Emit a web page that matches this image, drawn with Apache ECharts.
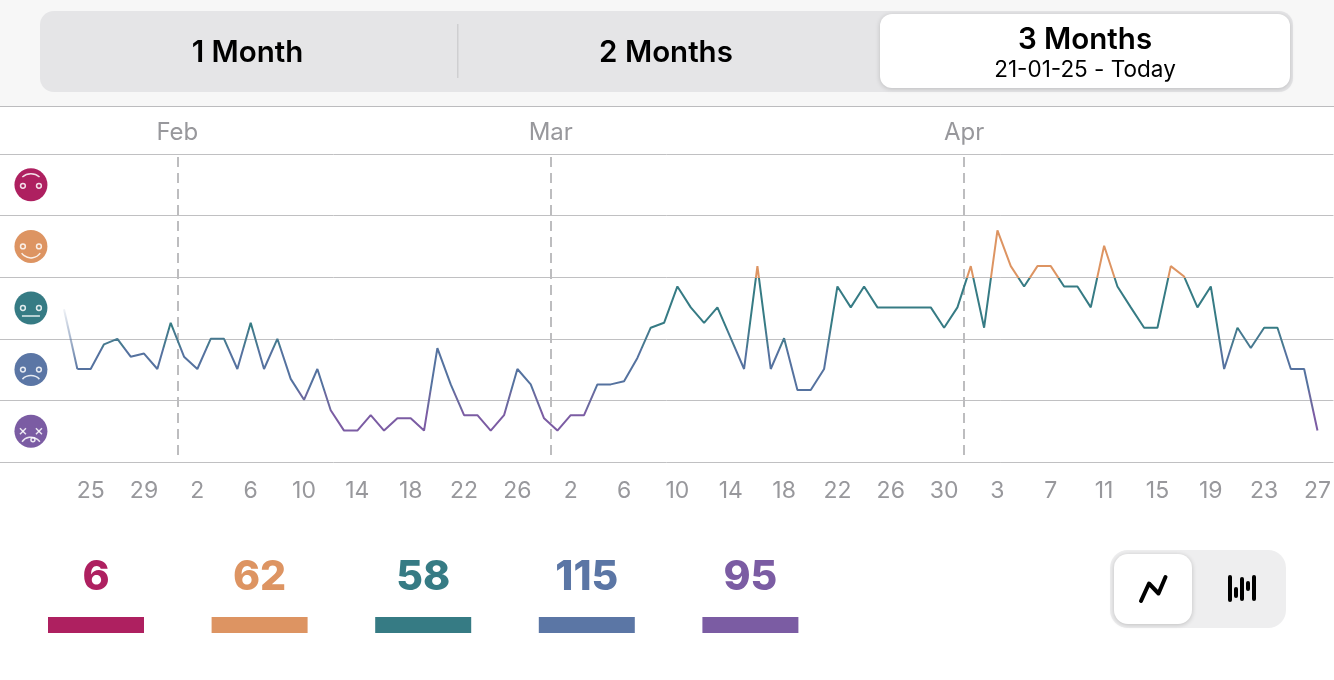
<!DOCTYPE html>
<html>
<head>
<meta charset="utf-8">
<style>
html, body { margin: 0; padding: 0; background: #fff; }
#main { width: 1334px; height: 680px; }
</style>
<script src="https://cdn.jsdelivr.net/npm/echarts@6/dist/echarts.min.js"></script>
</head>
<body>
<div id="main"></div>
<script>
// mood value per day, 23 Jan .. 27 Apr (index 0 = 23 Jan)
var moodValues = [
  2.48, 1.51, 1.51, 1.91, 2.0, 1.71, 1.76, 1.51, 2.26,
  1.71, 1.51, 2.0, 2.0, 1.51, 2.26, 1.51, 2.0, 1.35, 1.01, 1.51, 0.84, 0.51, 0.51, 0.76,
  0.51, 0.71, 0.71, 0.51, 1.85, 1.26, 0.76, 0.76, 0.51, 0.76, 1.51, 1.26, 0.71,
  0.51, 0.76, 0.76, 1.26, 1.26, 1.31, 1.69, 2.18, 2.26, 2.85, 2.51, 2.26, 2.51, 2.01, 1.51,
  3.18, 1.51, 2.01, 1.17, 1.17, 1.51, 2.85, 2.51, 2.85, 2.51, 2.51, 2.51, 2.51, 2.51, 2.18, 2.51,
  3.18, 2.18, 3.76, 3.18, 2.85, 3.18, 3.18, 2.85, 2.85, 2.51, 3.51, 2.85, 2.51, 2.18, 2.18,
  3.18, 3.01, 2.51, 2.85, 1.51, 2.18, 1.85, 2.18, 2.18, 1.51, 1.51, 0.51
];
var tickDays = [2, 6, 10, 14, 18, 22, 26, 30, 34, 38, 42, 46, 50, 54, 58, 62, 66, 70, 74, 78, 82, 86, 90, 94];
var tickLabels = ['25', '29', '2', '6', '10', '14', '18', '22', '26', '2', '6', '10', '14', '18', '22', '26', '30', '3', '7', '11', '15', '19', '23', '27'];
var monthEdges = [8.5, 36.5, 67.5];
var monthLabels = ['Feb', 'Mar', 'Apr'];

var moodLevels = [4.5, 3.5, 2.5, 1.5, 0.5];
var moodCounts = [6, 62, 58, 115, 95];
var moodColors = ['#ae2060', '#dd9462', '#367b84', '#5b76a5', '#7b5ca3'];

var rangeTabs = ['1 Month', '2 Months', '3 Months'];
var activeTabNote = '21-01-25 - Today';

// colour of the line by height, mixes at the edges of the mood bands
var lineBands = [
  {gte: 0, lt: 0.85, color: '#7b5ca3'},
  {gte: 0.85, lt: 1.15, color: '#6b699f'},
  {gte: 1.15, lt: 1.85, color: '#55729f'},
  {gte: 1.85, lt: 2.15, color: '#477990'},
  {gte: 2.15, lt: 2.98, color: '#367b84'},
  {gte: 2.98, lt: 4, color: '#dd9462'},
  {gte: 4, lte: 5, color: '#ae2060'}
];

var myChart = echarts.init(document.getElementById('main'));
var uiFont = 'Inter';

// one smiley, drawn around 0,0
function faceParts(k) {
  var white = {stroke: 'rgba(255,255,255,0.85)', fill: null, lineWidth: 1.5};
  var parts = [{type: 'circle', shape: {cx: 0, cy: 0, r: 16.5}, style: {fill: moodColors[k]}}];
  var eye = function (x, y) {
    return {type: 'circle', shape: {cx: x, cy: y || 0, r: 2.4}, style: white};
  };
  if (k === 0) {
    parts.push(eye(-8, 1), eye(8, 1), {type: 'arc', shape: {cx: 0, cy: 2, r: 13, startAngle: Math.PI * 1.27, endAngle: Math.PI * 1.73}, style: white});
  } else if (k === 1) {
    parts.push(eye(-8), eye(8), {type: 'arc', shape: {cx: 0, cy: 0, r: 11.5, startAngle: Math.PI * 0.2, endAngle: Math.PI * 0.8}, style: white});
  } else if (k === 2) {
    parts.push(eye(-8), eye(8), {type: 'line', shape: {x1: -9, y1: 8, x2: 9, y2: 8}, style: white});
  } else if (k === 3) {
    parts.push(eye(-8), eye(8), {type: 'arc', shape: {cx: 0, cy: 18, r: 12, startAngle: Math.PI * 1.25, endAngle: Math.PI * 1.75}, style: white});
  } else {
    parts.push(
      {type: 'line', shape: {x1: -11, y1: -3, x2: -5, y2: 3}, style: white},
      {type: 'line', shape: {x1: -5, y1: -3, x2: -11, y2: 3}, style: white},
      {type: 'line', shape: {x1: 5, y1: -3, x2: 11, y2: 3}, style: white},
      {type: 'line', shape: {x1: 11, y1: -3, x2: 5, y2: 3}, style: white},
      {type: 'arc', shape: {cx: 0, cy: 17, r: 11, startAngle: Math.PI * 1.2, endAngle: Math.PI * 1.8}, style: white},
      {type: 'circle', shape: {cx: 2, cy: 8.5, r: 2}, style: white}
    );
  }
  return parts;
}

// header, counts and the toggle are plain shapes on top of the chart
function rect(x, y, w, h, r, fill, extra) {
  var style = {fill: fill};
  for (var key in extra) style[key] = extra[key];
  return {type: 'rect', shape: {x: x, y: y, width: w, height: h, r: r}, style: style, silent: true};
}
function text(x, y, str, size, weight, color) {
  return {type: 'text', x: x, y: y, silent: true, style: {
    text: str, fontFamily: uiFont, fontSize: size, fontWeight: weight, fill: color,
    align: 'center', verticalAlign: 'middle'
  }};
}
function stroke(points) {
  return {type: 'polyline', silent: true, shape: {points: points},
    style: {fill: null, stroke: '#000', lineWidth: 4, lineCap: 'round', lineJoin: 'round'}};
}

var graphics = [
  rect(0, 0, 1334, 106, 0, '#f7f7f7'),
  rect(0, 106, 1334, 1, 0, '#bcbcbe'),
  rect(40, 11, 1253, 81, 14, '#e5e5e7'),
  rect(457, 24, 1.5, 54, 0, '#cfcfd1'),
  rect(880, 14, 410, 74, 12, '#fff', {shadowColor: 'rgba(0,0,0,0.18)', shadowBlur: 5, shadowOffsetY: 1}),
  text(247.5, 53, rangeTabs[0], 29.5, 600, '#000'),
  text(666, 53, rangeTabs[1], 29.5, 600, '#000'),
  text(1085, 40, rangeTabs[2], 29.5, 600, '#000'),
  text(1085, 70.5, activeTabNote, 22.5, 400, '#000'),
  rect(1110, 550, 176, 78, 18, '#eeeeef'),
  rect(1114, 554, 78, 70, 14, '#fff', {shadowColor: 'rgba(0,0,0,0.2)', shadowBlur: 5, shadowOffsetY: 1}),
  stroke([[1141, 601], [1149, 583.5], [1158.5, 593.5], [1165.5, 577]]),
  stroke([[1230, 577], [1230, 600]]),
  stroke([[1236, 589], [1236, 596]]),
  stroke([[1242, 579], [1242, 599]]),
  stroke([[1248, 583], [1248, 589]]),
  stroke([[1254, 577], [1254, 599]])
];
moodCounts.forEach(function (count, k) {
  var left = 48 + k * 163.6;
  graphics.push(rect(left, 617, 96, 16, 0, moodColors[k]));
  graphics.push(text(left + 48, 578, String(count), 41, 800, moodColors[k]));
});

var option = {
  animation: false,
  backgroundColor: '#fff',
  grid: {left: 0, right: 0, top: 154, bottom: 218, containLabel: false},
  xAxis: [
    {
      type: 'value', min: -4.8, max: 95.2, position: 'bottom',
      axisLine: {show: false}, axisTick: {show: false}, splitLine: {show: false},
      axisLabel: {
        customValues: tickDays, margin: 18, color: '#98989c', fontFamily: uiFont, fontSize: 23,
        formatter: function (v) { return tickLabels[tickDays.indexOf(v)]; }
      }
    },
    {
      type: 'value', min: -4.8, max: 95.2, position: 'top',
      axisLine: {show: false}, axisTick: {show: false}, splitLine: {show: false},
      axisLabel: {
        customValues: monthEdges, margin: 9, color: '#98989c', fontFamily: uiFont, fontSize: 24,
        formatter: function (v) { return monthLabels[monthEdges.indexOf(v)]; }
      }
    }
  ],
  yAxis: {
    type: 'value', min: 0, max: 5, interval: 1,
    axisLine: {show: false}, axisTick: {show: false}, axisLabel: {show: false},
    splitLine: {lineStyle: {color: '#c0c0c2', width: 1}}
  },
  visualMap: {show: false, type: 'piecewise', seriesIndex: 0, dimension: 1, pieces: lineBands},
  series: [
    {
      name: 'mood', type: 'line', z: 3, symbol: 'none', smooth: false,
      lineStyle: {width: 2},
      data: moodValues.slice(1).map(function (v, i) { return [i + 1, v]; }),
      markLine: {
        silent: true, symbol: 'none', z: 1, label: {show: false},
        lineStyle: {type: [10, 6], color: '#bdbdbf', width: 2},
        data: monthEdges.map(function (d) {
          return [{coord: [d, 4.95]}, {coord: [d, 0.08]}];
        })
      }
    },
    {
      name: 'fade-in', type: 'line', z: 3, symbol: 'none',
      lineStyle: {
        width: 2,
        color: new echarts.graphic.LinearGradient(0, 0, 0, 1, [
          {offset: 0, color: 'rgba(85,114,159,0.05)'},
          {offset: 1, color: 'rgba(85,114,159,1)'}
        ])
      },
      data: [[0, moodValues[0]], [1, moodValues[1]]]
    },
    {
      name: 'faces', type: 'custom', z: 4, silent: true, clip: false,
      data: moodLevels.map(function (level, k) { return [-2.48, level, k]; }),
      renderItem: function (params, api) {
        var at = api.coord([api.value(0), api.value(1)]);
        return {type: 'group', x: at[0], y: at[1], children: faceParts(api.value(2))};
      }
    }
  ],
  graphic: {elements: graphics}
};
myChart.setOption(option);
</script>
</body>
</html>
